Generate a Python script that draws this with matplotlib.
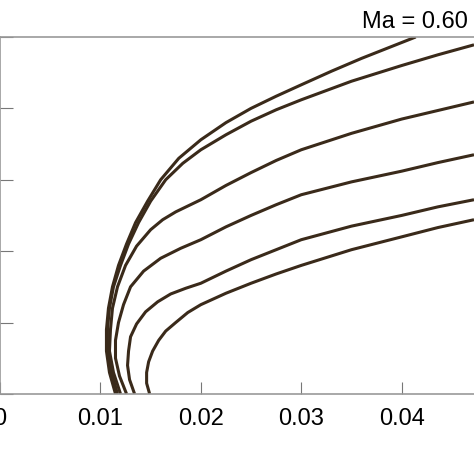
import matplotlib; matplotlib.use('Agg')
import matplotlib.pyplot as plt

plt.rcParams['font.family'] = ['Liberation Sans', 'DejaVu Sans']

# curves: (x values, y values)
c1_x = [0.0115, 0.0109, 0.0106, 0.0106, 0.0108, 0.0112, 0.0118, 0.0126, 0.0135, 0.0147, 0.016, 0.0178, 0.020, 0.0225, 0.025, 0.0275, 0.030, 0.033, 0.036, 0.0387, 0.0414]
c1_y = [0.0, 0.3, 0.6, 0.9, 1.2, 1.5, 1.8, 2.1, 2.4, 2.7, 3.0, 3.3, 3.56, 3.8, 4.0, 4.17, 4.33, 4.52, 4.7, 4.85, 5.0]
c2_x = [0.0117, 0.0111, 0.0107, 0.0107, 0.0109, 0.0113, 0.0120, 0.0128, 0.0138, 0.0150, 0.0165, 0.0182, 0.020, 0.0225, 0.025, 0.0275, 0.030, 0.035, 0.040, 0.0436, 0.0472]
c2_y = [0.0, 0.3, 0.6, 0.9, 1.2, 1.5, 1.8, 2.1, 2.4, 2.7, 3.0, 3.23, 3.42, 3.63, 3.82, 3.98, 4.12, 4.38, 4.6, 4.75, 4.89]
c3_x = [0.0120, 0.0113, 0.0109, 0.0110, 0.0112, 0.0117, 0.0125, 0.0136, 0.015, 0.0162, 0.0175, 0.020, 0.0225, 0.025, 0.0275, 0.030, 0.035, 0.040, 0.0436, 0.0472]
c3_y = [0.0, 0.3, 0.6, 0.9, 1.2, 1.5, 1.8, 2.07, 2.3, 2.44, 2.55, 2.72, 2.92, 3.1, 3.27, 3.42, 3.65, 3.85, 3.97, 4.09]
c4_x = [0.0126, 0.0119, 0.0115, 0.0115, 0.0118, 0.0123, 0.0130, 0.0143, 0.016, 0.018, 0.020, 0.0225, 0.025, 0.0275, 0.030, 0.035, 0.040, 0.0436, 0.0472]
c4_y = [0.0, 0.25, 0.5, 0.75, 1.0, 1.25, 1.5, 1.72, 1.9, 2.04, 2.16, 2.34, 2.5, 2.65, 2.79, 2.97, 3.12, 3.24, 3.35]
c5_x = [0.0134, 0.0129, 0.0127, 0.0128, 0.0130, 0.0136, 0.0145, 0.0157, 0.017, 0.0185, 0.020, 0.0225, 0.025, 0.0275, 0.030, 0.035, 0.040, 0.0436, 0.0472]
c5_y = [0.0, 0.2, 0.4, 0.6, 0.8, 0.98, 1.15, 1.29, 1.4, 1.48, 1.55, 1.72, 1.88, 2.02, 2.16, 2.35, 2.5, 2.62, 2.72]
c6_x = [0.0149, 0.0146, 0.0146, 0.0148, 0.0152, 0.0158, 0.0165, 0.0175, 0.0187, 0.020, 0.0225, 0.025, 0.0275, 0.030, 0.035, 0.040, 0.0436, 0.0472]
c6_y = [0.0, 0.15, 0.3, 0.45, 0.6, 0.75, 0.88, 1.0, 1.14, 1.25, 1.41, 1.55, 1.68, 1.8, 2.02, 2.2, 2.33, 2.44]
curves = [(c1_x, c1_y), (c2_x, c2_y), (c3_x, c3_y), (c4_x, c4_y), (c5_x, c5_y), (c6_x, c6_y)]
x_ticks = [0, 0.01, 0.02, 0.03, 0.04]
x_labels = ['0', '0.01', '0.02', '0.03', '0.04']
y_ticks = [0, 1, 2, 3, 4, 5]

fig = plt.figure(figsize=(4.74, 4.74), dpi=100)
ax = fig.add_axes([0.0, 0.169, 1.0, 0.753])
for cx, cy in curves:
    ax.plot(cx, cy, color='#3a2a1a', lw=2.2, solid_joinstyle='round', solid_capstyle='butt')
ax.set_xlim(0, 0.0472); ax.set_ylim(0, 5)
ax.set_xticks(x_ticks); ax.set_xticklabels(x_labels, fontsize=17)
ax.set_yticks(y_ticks); ax.set_yticklabels([])
ax.tick_params(direction='in', length=9, color='#777777', pad=10)
ax.spines['right'].set_visible(False)
for s in ('left', 'top', 'bottom'):
    ax.spines[s].set_color('#999999'); ax.spines[s].set_linewidth(1.2)
fig.text(0.988, 0.93, 'Ma = 0.60', ha='right', va='bottom', fontsize=17)
fig.savefig('out.png', dpi=100)
